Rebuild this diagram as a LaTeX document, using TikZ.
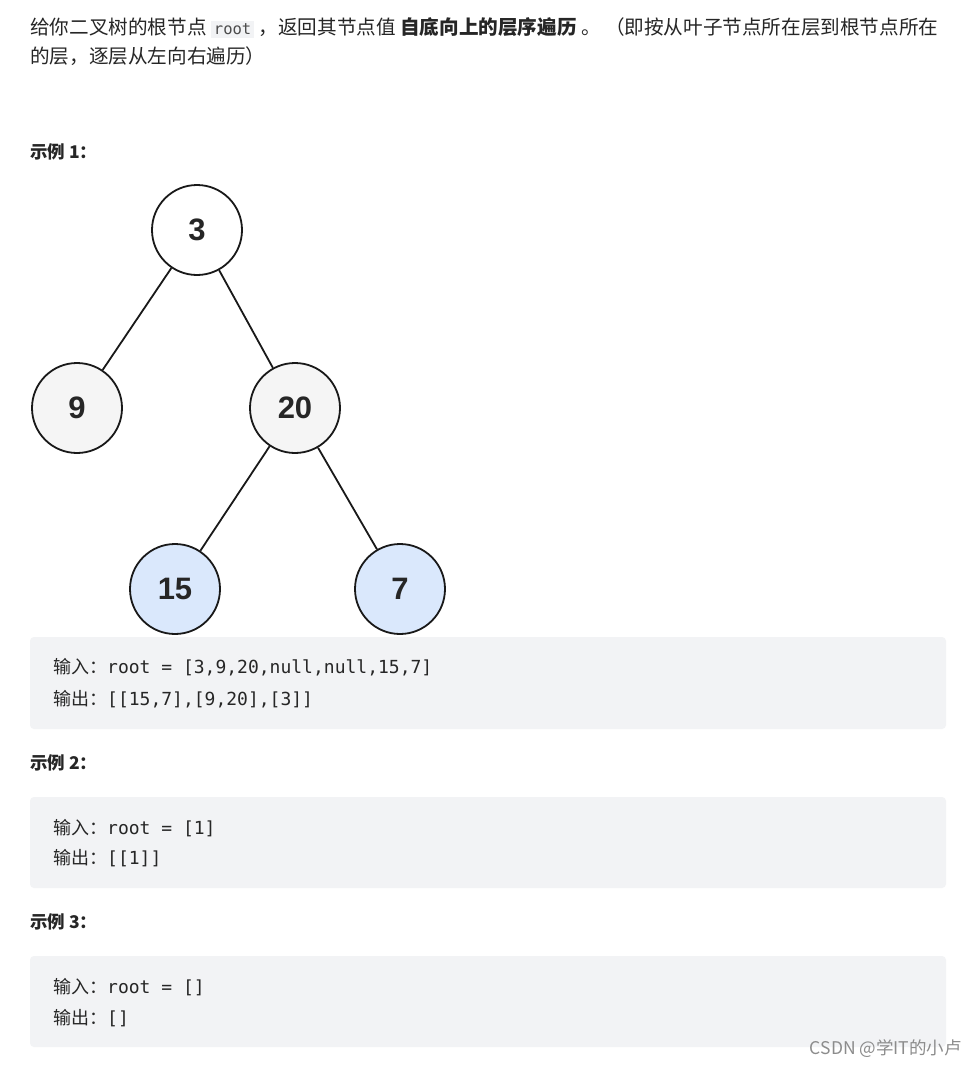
\documentclass[tikz,border=0pt]{standalone}
\usepackage{fontspec}
\setmainfont{Noto Sans CJK SC}
\setmonofont{DejaVu Sans Mono}
\newfontfamily\numfont{Liberation Sans}
\definecolor{boxbg}{HTML}{F2F3F5}
\definecolor{nodegray}{HTML}{F5F5F5}
\definecolor{nodeblue}{HTML}{DAE8FC}
\definecolor{txt}{HTML}{262626}
\begin{document}
\begin{tikzpicture}[x=1pt,y=-1pt,
  tn/.style={circle,draw=black!90,line width=1.8pt,minimum size=90pt,inner sep=0pt,font=\fontsize{31}{31}\selectfont\numfont\bfseries,text=black!85},
  edge/.style={line width=1.8pt,black!90},
  para/.style={anchor=west,inner sep=0pt,font=\fontsize{19.6}{22}\selectfont,text=txt},
  head/.style={anchor=west,inner sep=0pt,font=\fontsize{17.5}{20}\selectfont\bfseries,text=txt},
  codebox/.style={fill=boxbg,rounded corners=4pt,draw=none},
  code/.style={anchor=west,inner sep=0pt,font=\fontsize{18}{20}\selectfont,text=txt}]
\useasboundingbox[fill=white] (0,0) rectangle (976,1068);
\node[para] (t1) at (30,28) {给你二叉树的根节点 \colorbox{boxbg}{\ttfamily\fontsize{15.5}{16}\selectfont\color{black!70}root} ，返回其节点值 \textbf{自底向上的层序遍历} 。 （即按从叶子节点所在层到根节点所在};
\node[para] (t2) at (30,56) {的层，逐层从左向右遍历）};
\node[head] (h1) at (30,152) {示例 1：};
\node[tn,fill=white] (n3) at (197,230) {3};
\node[tn,fill=nodegray] (n9) at (77,408) {9};
\node[tn,fill=nodegray] (n20) at (295,408) {20};
\node[tn,fill=nodeblue] (n15) at (175,589) {15};
\node[tn,fill=nodeblue] (n7) at (400,589) {7};
\draw[edge] (n3) -- (n9);
\draw[edge] (n3) -- (n20);
\draw[edge] (n20) -- (n15);
\draw[edge] (n20) -- (n7);
\fill[codebox] (30,637) rectangle (946,729);
\node[code] (c1a) at (53,667) {输入：\ttfamily root = [3,9,20,null,null,15,7]};
\node[code] (c1b) at (53,699) {输出：\ttfamily [[15,7],[9,20],[3]]};
\node[head] (h2) at (30,763) {示例 2：};
\fill[codebox] (30,797) rectangle (946,888);
\node[code] (c2a) at (53,828) {输入：\ttfamily root = [1]};
\node[code] (c2b) at (53,858) {输出：\ttfamily [[1]]};
\node[head] (h3) at (30,922) {示例 3：};
\fill[codebox] (30,956) rectangle (946,1047);
\node[code] (c3a) at (53,987) {输入：\ttfamily root = []};
\node[code] (c3b) at (53,1018) {输出：\ttfamily []};
\node[anchor=east,inner sep=0pt,font=\fontsize{17.5}{20}\selectfont,text=black!45] (wm) at (962,1049) {CSDN @学IT的小卢};
\end{tikzpicture}
\end{document}
